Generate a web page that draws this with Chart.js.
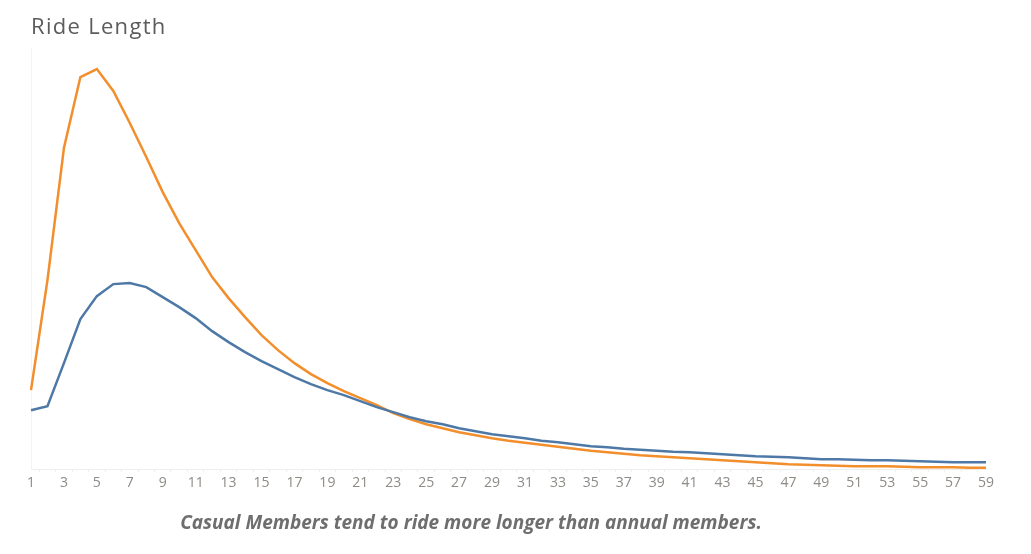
<!DOCTYPE html>
<html>
<head>
<meta charset="utf-8">
<script src="https://cdn.jsdelivr.net/npm/chart.js@4/dist/chart.umd.min.js"></script>
<style>
    html, body { margin: 0; padding: 0; background: #fff; }
    #wrap { position: relative; width: 1031px; height: 554px; overflow: hidden; }
    #chartBox { position: absolute; left: 0; top: 0; width: 1031px; height: 554px; }
    #title {
        position: absolute; left: 31px; top: 10px;
        font-family: "Open Sans", sans-serif; font-size: 22px; font-weight: 400;
        color: #5c5c5c; letter-spacing: 1.3px;
    }
    #caption {
        position: absolute; left: 0; width: 942px; top: 509px; text-align: center;
        font-family: "Open Sans", sans-serif; font-size: 19px; font-weight: 700; font-style: italic;
        color: #6e6e6e;
    }
</style>
</head>
<body>
<div id="wrap">
    <div id="chartBox"><canvas id="rideChart"></canvas></div>
    <div id="title">Ride Length</div>
    <div id="caption">Casual Members tend to ride more longer than annual members.</div>
</div>

<script>
// ride length in minutes (1..59)
const minutes = Array.from({ length: 59 }, (_, i) => String(i + 1));

// number of rides (hundreds) per ride length
const casualRides = [
    79, 189, 321, 392, 400, 378, 346, 312, 277, 246,
    219, 192, 171, 152, 134, 119, 106, 95, 86, 78,
    71, 64, 56, 50, 45, 41, 37, 34, 31, 28.5,
    26.5, 24.5, 22.5, 20.5, 18.5, 17, 15.5, 14, 13, 12,
    11, 10, 9, 8, 7, 6, 5, 4.5, 4, 3.5,
    3, 3, 3, 2.5, 2, 2, 2, 1.5, 1.5
];
const memberRides = [
    59, 63, 106, 150, 173, 185, 186, 182, 172, 162,
    151, 138, 127, 117, 108, 100, 92, 85, 79, 74,
    68, 62, 57, 52, 48, 45, 41, 38, 35, 33,
    31, 28.5, 27, 25, 23, 22, 20.5, 19.5, 18.5, 17.5,
    17, 16, 15, 14, 13, 12.5, 12, 11, 10, 10,
    9.5, 9, 9, 8.5, 8, 7.5, 7, 7, 7
];

const seriesColors = { casual: '#f28e2b', member: '#4e79a7' };

let rideChart;

onReady(function () {
    initChart();
});

function onReady(fn) {
    if (document.readyState !== 'loading') fn();
    else document.addEventListener('DOMContentLoaded', fn);
}

// ================= CHART =================
function initChart() {
    const ctx = document.getElementById('rideChart');
    if (!ctx) return;

    rideChart = new Chart(ctx, {
        type: 'line',
        data: {
            labels: minutes,
            datasets: [
                {
                    label: 'Member',
                    data: memberRides,
                    borderColor: seriesColors.member,
                    borderWidth: 2.5,
                    pointRadius: 0,
                    tension: 0
                },
                {
                    label: 'Casual',
                    data: casualRides,
                    borderColor: seriesColors.casual,
                    borderWidth: 2.5,
                    pointRadius: 0,
                    tension: 0
                }
            ]
        },
        options: {
            responsive: true,
            maintainAspectRatio: false,
            animation: false,
            layout: { padding: { left: 31, right: 45, top: 48, bottom: 61 } },
            plugins: {
                legend: { display: false },
                tooltip: { enabled: false }
            },
            scales: {
                x: {
                    offset: false,
                    border: { display: true, color: '#eeeeee', width: 1 },
                    grid: { display: true, offset: true, drawOnChartArea: false, tickLength: 3, color: '#eeeeee' },
                    ticks: {
                        autoSkip: false,
                        maxRotation: 0,
                        padding: 2,
                        color: '#8e8a86',
                        font: { family: 'Open Sans', size: 14 },
                        callback: (v, i) => (i % 2 === 0 ? minutes[i] : '')
                    }
                },
                y: {
                    min: 0,
                    max: 421,
                    border: { display: true, color: '#f3f3f3', width: 1 },
                    grid: { display: false, drawTicks: false },
                    ticks: { display: false }
                }
            }
        }
    });
}
</script>
</body>
</html>
